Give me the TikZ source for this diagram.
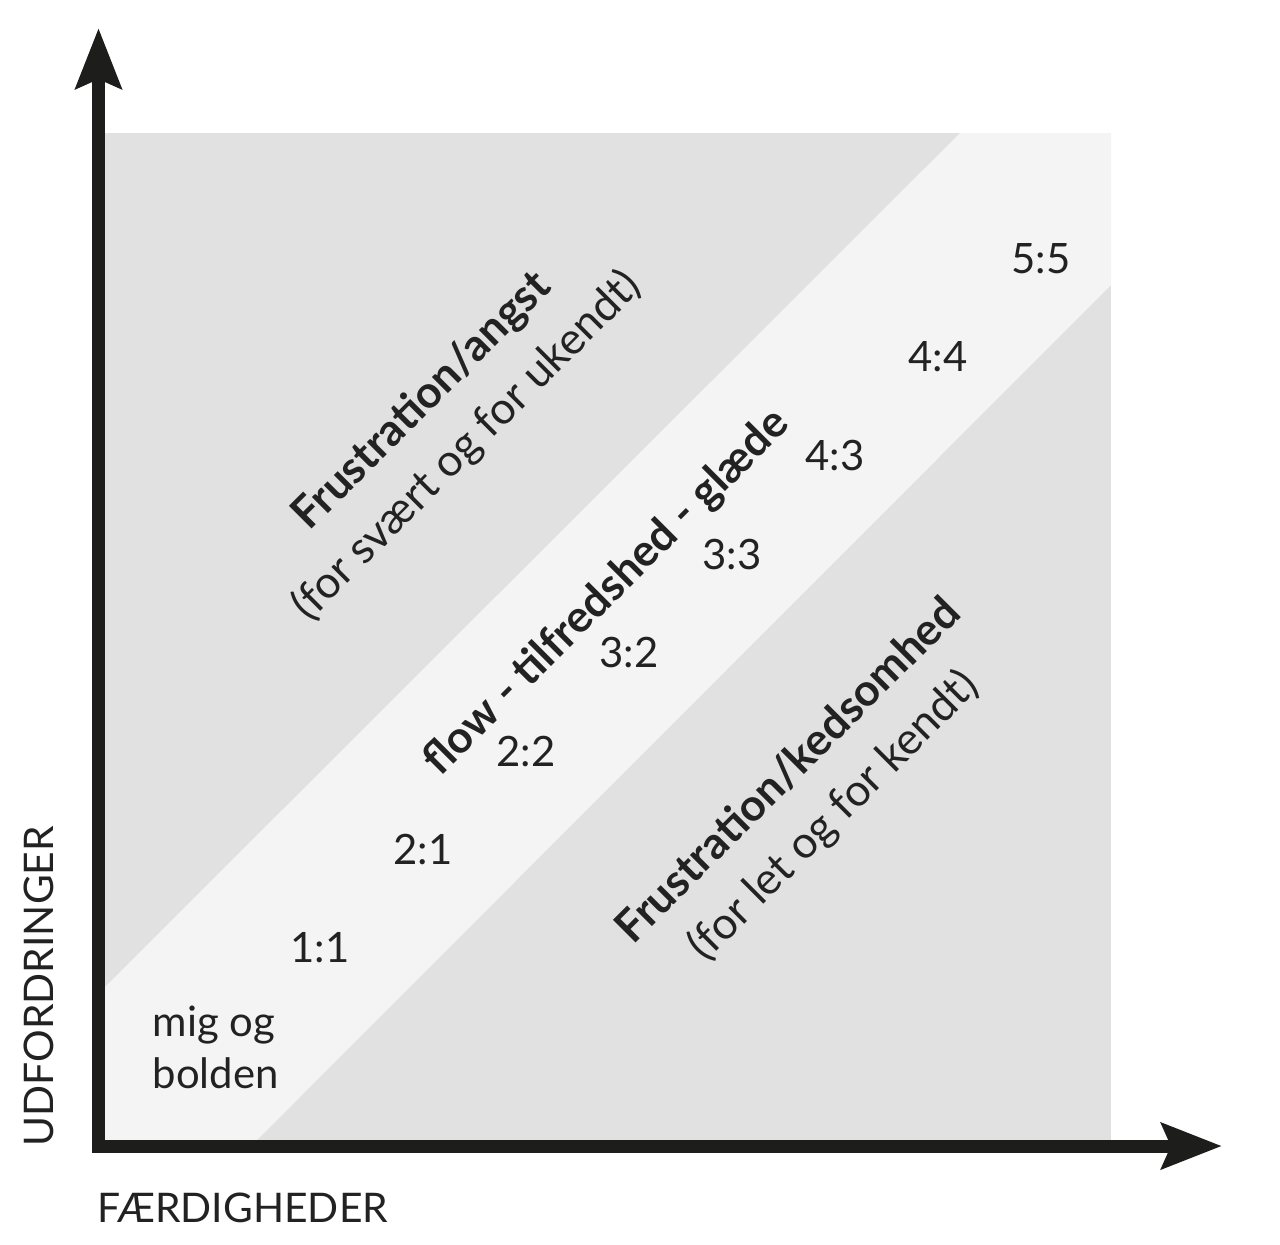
\documentclass[tikz,border=0pt]{standalone}
\usepackage{fontspec}
\setmainfont{Lato}
\usetikzlibrary{arrows.meta}
\definecolor{zonegray}{HTML}{E1E1E1}
\definecolor{flowgray}{HTML}{F4F4F4}
\definecolor{axisblack}{HTML}{1D1D1B}
\definecolor{txtgray}{HTML}{222222}
\tikzset{
	axisline/.style={line width=3.7pt, draw=axisblack, line join=miter,
		{Stealth[length=6mm,width=4.5mm,inset=0.9mm]}-{Stealth[length=6mm,width=4.5mm,inset=0.9mm]}},
	ratio/.style={font=\fontsize{11.9}{14}\selectfont, text=txtgray, inner sep=0pt},
	zonetext/.style={rotate=45, align=center, font=\fontsize{12.6}{18}\selectfont, text=txtgray, inner sep=0pt},
	axislabel/.style={font=\fontsize{11.6}{14}\selectfont, text=txtgray, inner sep=0pt, anchor=base west},
}

\begin{document}
\begin{tikzpicture}[x=0.01cm,y=-0.01cm]
	\useasboundingbox (0,0) rectangle (1280,1244);
	% zones
	\fill [zonegray] (105,133) rectangle (1111,1140);
	\fill [flowgray] (105,987) -- (960,133) -- (1111,133) -- (1111,285) -- (257,1140) -- (105,1140) -- cycle;
	% axes
	\coordinate (ytip) at (98.5,28);
	\coordinate (O) at (98.5,1146);
	\coordinate (xtip) at (1222,1146);
	\draw [axisline] (ytip) -- (O) -- (xtip);
	\node [axislabel] (xlabel) at (97,1222) {FÆRDIGHEDER};
	\node [axislabel, rotate=90] (ylabel) at (53,1147) {UDFORDRINGER};
	% zone labels
	\node [zonetext] (angst) at (445,424) {\textbf{Frustration/angst}\\(for svært og for ukendt)};
	\node [zonetext] (flow) at (607,593) {\textbf{flow - tilfredshed - glæde}};
	\node [zonetext] (kedsomhed) at (812,794) {\textbf{Frustration/kedsomhed}\\(for let og for kendt)};
	% steps
	\foreach \lbl [count=\i from 0] in {1:1,2:1,2:2,3:2,3:3,4:3,4:4,5:5}
		\node [ratio] (r\i) at (320+103*\i,948-98.5*\i) {\lbl};
	\node [ratio, align=left, anchor=west, font=\fontsize{11.9}{14.8}\selectfont] (start) at (152,1047) {mig og\\bolden};
\end{tikzpicture}
\end{document}
